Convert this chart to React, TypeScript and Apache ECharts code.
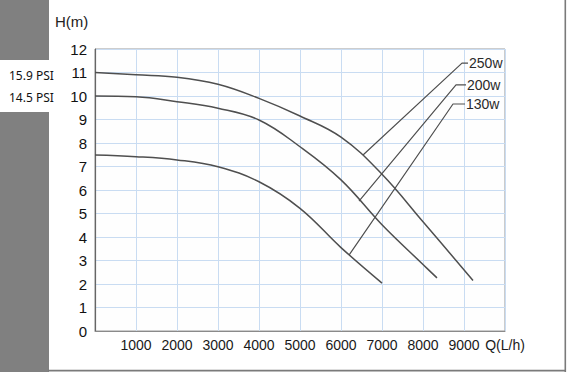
import React, { useEffect, useRef } from "react";
import * as echarts from "echarts";

// Pump curves: flow Q (L/h) vs head H (m)
const flow250 = [0, 1000, 2000, 3000, 4000, 5000, 6000, 7000, 8000, 9220];
const head250 = [11.0, 10.9, 10.8, 10.5, 9.9, 9.15, 8.25, 6.67, 4.65, 2.15];

const flow200 = [0, 1000, 2000, 3000, 4000, 5000, 6000, 7000, 8000, 8341];
const head200 = [10.0, 9.97, 9.76, 9.48, 8.98, 7.84, 6.43, 4.52, 2.83, 2.26];

const flow130 = [0, 1000, 2000, 3000, 4000, 5000, 6000, 7000];
const head130 = [7.49, 7.42, 7.28, 6.99, 6.35, 5.22, 3.55, 2.04];

const powerLabels = ["250w", "200w", "130w"];

// Leader lines: [start on curve, bend, end near label]
const leaderFlow250 = [6537, 8951, 9098];
const leaderHead250 = [7.49, 11.4, 11.4];
const leaderFlow200 = [6439, 8805, 9049];
const leaderHead200 = [5.53, 10.47, 10.47];
const leaderFlow130 = [6195, 8732, 9024];
const leaderHead130 = [3.23, 9.66, 9.66];

const xMin = 0;
const xMax = 10000;
const xStep = 1000;
const yMin = 0;
const yMax = 12;
const yStep = 1;
const xUnitLabel = "Q(L/h)";
const yUnitLabel = "H(m)";
const psiLabels = ["15.9 PSI", "14.5 PSI"];

const zip = (xs: number[], ys: number[]) => xs.map((x, i) => [x, ys[i]]);

const CURVE = "#4f4f4f";
const FONT = "Liberation Sans";

export default function App() {
  const ref = useRef<HTMLDivElement>(null);
  useEffect(() => {
    if (!ref.current) return;
    const chart = echarts.init(ref.current, undefined, { renderer: "svg" });
    const curveSeries = (name: string, xs: number[], ys: number[]) => ({
      name,
      type: "line",
      data: zip(xs, ys),
      showSymbol: false,
      smooth: 0.4,
      lineStyle: { color: CURVE, width: 1.5 },
      silent: true,
    });
    const leaderSeries = (name: string, xs: number[], ys: number[]) => ({
      name: name + "-leader",
      type: "line",
      data: zip(xs, ys),
      showSymbol: false,
      symbol: "none",
      lineStyle: { color: CURVE, width: 1.2 },
      endLabel: {
        show: true,
        distance: 1,
        formatter: name,
        fontSize: 14,
        fontFamily: FONT,
        color: "#2a2a2a",
      },
      silent: true,
    });
    chart.setOption({
      animation: false,
      backgroundColor: "#ffffff",
      grid: {
        left: 95,
        right: 62,
        top: 49,
        bottom: 41,
        show: true,
        borderColor: "#9a9a9a",
        borderWidth: 1,
        backgroundColor: "#fefefe",
      },
      xAxis: {
        type: "value",
        min: xMin,
        max: xMax,
        interval: xStep,
        axisLine: { show: true, lineStyle: { color: "#8a8a8a", width: 1 } },
        axisTick: { show: false },
        splitLine: { show: true, lineStyle: { color: "#c9dcf2", width: 1 } },
        axisLabel: {
          margin: 7,
          fontSize: 14,
          fontFamily: FONT,
          color: "#1a1a1a",
          showMinLabel: true,
          showMaxLabel: true,
          formatter: (v: number) =>
            v === xMin ? "" : v === xMax ? xUnitLabel : String(v),
        },
      },
      yAxis: {
        type: "value",
        min: yMin,
        max: yMax,
        interval: yStep,
        axisLine: { show: true, lineStyle: { color: "#666", width: 1.2 } },
        axisTick: { show: false },
        splitLine: { show: true, lineStyle: { color: "#c9dcf2", width: 1 } },
        axisLabel: {
          margin: 8,
          fontSize: 15,
          fontFamily: FONT,
          color: "#111",
        },
      },
      graphic: [
        { type: "rect", shape: { x: 0, y: 0, width: 49, height: 60 }, style: { fill: "#808080" }, silent: true },
        { type: "rect", shape: { x: 0, y: 112, width: 49, height: 260 }, style: { fill: "#808080" }, silent: true },
        { type: "rect", shape: { x: 564.5, y: 0, width: 1.6, height: 372 }, style: { fill: "#7a7a7a" }, silent: true },
        { type: "rect", shape: { x: 48, y: 369.8, width: 518, height: 1.6 }, style: { fill: "#7a7a7a" }, silent: true },
        {
          type: "text",
          x: 9,
          y: 75,
          style: { text: psiLabels[0], fontSize: 12, fontFamily: "Noto Sans", fill: "#111", verticalAlign: "middle" },
          silent: true,
        },
        {
          type: "text",
          x: 9,
          y: 97,
          style: { text: psiLabels[1], fontSize: 12, fontFamily: "Noto Sans", fill: "#111", verticalAlign: "middle" },
          silent: true,
        },
        {
          type: "text",
          x: 55,
          y: 21,
          style: { text: yUnitLabel, fontSize: 15, fontFamily: FONT, fill: "#222", verticalAlign: "middle" },
          silent: true,
        },
      ],
      series: [
        curveSeries("250w", flow250, head250),
        curveSeries("200w", flow200, head200),
        curveSeries("130w", flow130, head130),
        leaderSeries(powerLabels[0], leaderFlow250, leaderHead250),
        leaderSeries(powerLabels[1], leaderFlow200, leaderHead200),
        leaderSeries(powerLabels[2], leaderFlow130, leaderHead130),
      ],
    });
    return () => chart.dispose();
  }, []);
  return (
    <div
      ref={ref}
      style={{ position: "fixed", left: 0, top: 0, width: 567, height: 372 }}
    />
  );
}
